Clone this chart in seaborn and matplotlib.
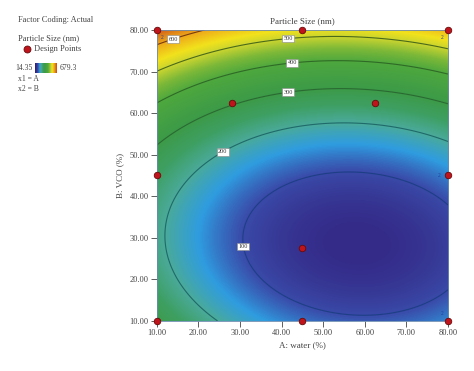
import numpy as np
import pandas as pd
import seaborn as sns
import matplotlib.pyplot as plt
from matplotlib.colors import LinearSegmentedColormap, Normalize

# design points (A: water %, B: VCO %)
water_pts = [10, 45, 80, 28, 62.5, 10, 80, 45, 10, 45, 80]
vco_pts = [80, 80, 80, 62.5, 62.5, 45, 45, 27.5, 10, 10, 10]
# replicate counts shown next to points
rep_a = [10, 80, 80, 80]
rep_b = [80, 80, 45, 10]

# fitted quadratic response
a0, b0 = 58.0, 28.6
f_min = 45.7
coef_aa, coef_bb, coef_ab = 0.073, 0.1835, 0.015
levels = [100, 200, 300, 400, 500, 600]
vmin, vmax = 14.35, 679.3

# colour stops, Design-Expert like
stop_vals = [0, 40, 100, 150, 200, 250, 300, 400, 450, 500, 540, 600, 679.3]
stop_cols = ['#30206e', '#342784', '#3a4aa8', '#2f9ce0', '#4aaa9a', '#3e9f62',
             '#3c9a48', '#4ea83e', '#7cb838', '#c8d430', '#f2e21c', '#eeaa1a', '#c84818']

sns.set_theme(style='white')
plt.rcParams['font.family'] = ['Liberation Serif', 'DejaVu Serif']

pos = [max(0, (v - vmin) / (vmax - vmin)) for v in stop_vals]
pos[0] = 0.0
cmap = LinearSegmentedColormap.from_list('de', list(zip(pos, stop_cols)))

ga = np.linspace(10, 80, 300)
gb = np.linspace(10, 80, 300)
A, B = np.meshgrid(ga, gb)
Z = (f_min + coef_aa * (A - a0) ** 2 + coef_bb * (B - b0) ** 2
     + coef_ab * (A - a0) * (B - b0))

fig = plt.figure(figsize=(4.74, 3.71), dpi=100)
ax = fig.add_axes([0.331, 0.135, 0.614, 0.784])
ax.imshow(Z, extent=[10, 80, 10, 80], origin='lower', cmap=cmap,
          norm=Normalize(vmin, vmax), aspect='auto', interpolation='bilinear')
line_cols = ['#1d3f86', '#1f6a6a', '#2a6a32', '#2f6a26', '#4a6a1a', '#7a3a10']
cs = ax.contour(A, B, Z, levels=levels, colors=line_cols, linewidths=0.8)
lbls = ax.clabel(cs, fmt='%d', fontsize=4.5, inline=False,
                 manual=[(31, 28), (25.6, 51), (41.5, 66), (42.5, 73), (41.5, 79), (13.6, 78.8)])
for t in lbls:
    t.set_rotation(0)
    t.set_bbox(dict(boxstyle='square,pad=0.2', fc='white', ec='#888888', lw=0.4))
    t.set_color('#333333')

pts = pd.DataFrame({'water': water_pts, 'vco': vco_pts})
sns.scatterplot(data=pts, x='water', y='vco', ax=ax, color='#c0141c',
                edgecolor='#6a0a0a', linewidth=0.6, s=22, clip_on=False, zorder=5)
rep_dx = [1.0, -1.0, -1.8, -1.0]
rep_dy = [-1.2, -1.2, 0, 1.2]
rep_ha = ['left', 'right', 'right', 'right']
rep_va = ['top', 'top', 'center', 'bottom']
for a, b, dx, dy, h, v in zip(rep_a, rep_b, rep_dx, rep_dy, rep_ha, rep_va):
    ax.text(a + dx, b + dy, '2', fontsize=4, color='#2040a0', ha=h, va=v)

ax.set_xlim(10, 80)
ax.set_ylim(10, 80)
ax.set_xticks(np.arange(10, 81, 10))
ax.set_yticks(np.arange(10, 81, 10))
ax.set_xticklabels([f'{v:.2f}' for v in range(10, 81, 10)])
ax.set_yticklabels([f'{v:.2f}' for v in range(10, 81, 10)])
ax.tick_params(axis='both', labelsize=6, colors='#444444', length=4, width=0.6,
               direction='out', left=True, bottom=True, pad=2)
for s in ax.spines.values():
    s.set_color('#6a8ab0')
    s.set_linewidth(0.6)
ax.set_xlabel('A: water (%)', fontsize=6.5, color='#444444', labelpad=3)
ax.set_ylabel('B: VCO (%)', fontsize=6.5, color='#444444', labelpad=4)
ax.set_title('Particle Size (nm)', fontsize=6.5, color='#444444', pad=5)

# left-hand legend block
fig.text(18 / 474, 1 - 20 / 371, 'Factor Coding: Actual', fontsize=6, color='#444444', va='center')
fig.text(18 / 474, 1 - 38 / 371, 'Particle Size (nm)', fontsize=6, color='#444444', va='center')
fig.lines.append(plt.Line2D([27 / 474], [1 - 49 / 371], marker='o', ms=5, color='#c0141c',
                            mec='#6a0a0a', mew=0.6, transform=fig.transFigure))
fig.text(34 / 474, 1 - 49 / 371, 'Design Points', fontsize=6, color='#444444', va='center')
cax = fig.add_axes([35 / 474, 1 - 73 / 371, 22 / 474, 10 / 371])
cax.imshow(np.linspace(0, 1, 100)[None, :], cmap=cmap, aspect='auto')
cax.set_xticks([])
cax.set_yticks([])
for s in cax.spines.values():
    s.set_visible(False)
fig.text(33 / 474, 1 - 68 / 371, '14.35', fontsize=5.5, color='#444444', va='center', ha='right')
fig.text(60 / 474, 1 - 68 / 371, '679.3', fontsize=5.5, color='#444444', va='center')
fig.text(18 / 474, 1 - 79 / 371, 'x1 = A', fontsize=5.5, color='#444444', va='center')
fig.text(18 / 474, 1 - 89 / 371, 'x2 = B', fontsize=5.5, color='#444444', va='center')

fig.savefig('out.png', dpi=100)
